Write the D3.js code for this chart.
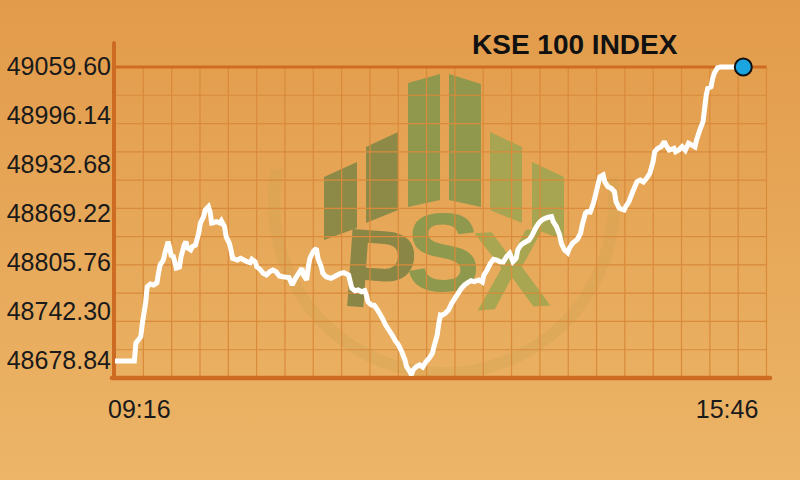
<!DOCTYPE html>
<html>
<head>
<meta charset="utf-8">
<script src="https://cdn.jsdelivr.net/npm/d3@7"></script>
<style>
  html, body { margin: 0; padding: 0; background: #e6a85a; }
  svg { display: block; font-family: "Liberation Sans", Arial, sans-serif; }
</style>
</head>
<body>
<script>
// KSE 100 intraday
var times = ["09:16","09:28","09:29","09:32","09:33","09:35","09:36","09:38","09:40","09:42",
  "09:43","09:44","09:46","09:47","09:49","09:50","09:51","09:52","09:54","09:56",
  "09:57","09:59","10:00","10:01","10:03","10:04","10:06","10:08","10:09","10:11",
  "10:12","10:14","10:15","10:16","10:17","10:19","10:21","10:22","10:24","10:25",
  "10:27","10:28","10:29","10:32","10:34","10:36","10:38","10:40","10:41","10:43",
  "10:44","10:46","10:48","10:50","10:52","10:54","10:56","10:58","11:00","11:04",
  "11:06","11:08","11:10","11:12","11:13","11:15","11:16","11:17","11:19","11:21",
  "11:22","11:24","11:25","11:27","11:30","11:32","11:34","11:36","11:38","11:41",
  "11:42","11:43","11:45","11:47","11:49","11:51","11:52","11:53","11:55","11:57",
  "11:59","12:02","12:04","12:06","12:08","12:10","12:12","12:14","12:16","12:17",
  "12:19","12:20","12:21","12:23","12:25","12:27","12:29","12:31","12:33","12:34",
  "12:36","12:37","12:38","12:39","12:41","12:43","12:45","12:47","12:49","12:51",
  "12:53","12:55","12:57","12:59","13:02","13:04","13:05","13:07","13:09","13:11",
  "13:13","13:15","13:17","13:19","13:21","13:23","13:25","13:26","13:28","13:30",
  "13:33","13:35","13:37","13:39","13:41","13:43","13:45","13:47","13:48","13:50",
  "13:52","13:53","13:55","13:57","13:58","14:00","14:03","14:05","14:06","14:08",
  "14:09","14:11","14:13","14:15","14:17","14:19","14:20","14:22","14:24","14:26",
  "14:27","14:29","14:32","14:33","14:35","14:37","14:40","14:42","14:44","14:46",
  "14:48","14:50","14:51","14:53","14:55","14:57","14:58","15:00","15:03","15:04",
  "15:06","15:08","15:10","15:12","15:14","15:16","15:17","15:19","15:21","15:22",
  "15:23","15:24","15:26","15:27","15:28","15:30","15:32","15:46"];

var values = [48678.84,48678.84,48702.15,48710.31,48728.05,48753.96,48775.07,48778.56,48777.27,48779.86,
  48792.81,48803.17,48809.65,48818.71,48833.35,48825.19,48813.92,48816.12,48799.28,48800.58,
  48813.92,48829.07,48833.35,48825.19,48822.60,48826.87,48829.07,48844.61,48857.56,48865.72,
  48874.40,48878.67,48872.20,48857.56,48857.95,48859.25,48857.56,48860.54,48852.77,48839.82,
  48831.27,48822.60,48811.85,48809.65,48811.85,48809.65,48807.44,48806.15,48810.55,48807.44,
  48800.97,48797.60,48792.42,48790.22,48794.49,48796.69,48794.49,48788.92,48788.01,48786.95,
  48777.27,48785.95,48792.42,48798.90,48790.22,48783.74,48800.97,48811.85,48820.39,48824.80,
  48811.85,48800.97,48792.42,48788.01,48785.95,48788.01,48790.22,48792.42,48793.20,48790.22,
  48781.54,48772.99,48769.89,48770.79,48768.59,48769.89,48764.32,48755.64,48751.37,48750.80,
  48744.89,48734.14,48725.46,48718.99,48712.51,48705.13,48699.56,48690.88,48680.14,48671.46,
  48664.98,48660.71,48667.18,48671.46,48673.66,48671.10,48677.93,48682.34,48688.81,48697.36,
  48712.51,48727.67,48738.42,48737.90,48740.62,48744.89,48753.57,48760.04,48766.52,48772.99,
  48777.27,48780.25,48782.84,48781.54,48783.74,48781.20,48790.22,48796.69,48805.37,48810.55,
  48809.65,48807.44,48807.10,48813.92,48818.32,48807.44,48811.85,48822.60,48829.07,48832.05,
  48835.55,48842.02,48850.70,48857.18,48861.45,48863.65,48864.95,48865.72,48859.25,48852.77,
  48842.02,48831.27,48822.60,48819.10,48824.80,48831.27,48836.45,48844.22,48854.97,48870.13,
  48872.20,48871.70,48883.47,48900.30,48917.53,48919.73,48911.05,48904.58,48902.50,48898.10,
  48885.15,48876.60,48874.40,48878.67,48885.15,48896.03,48911.05,48913.25,48910.70,48915.46,
  48921.93,48936.95,48949.90,48954.31,48956.38,48962.86,48958.58,48952.11,48954.31,48949.90,
  48952.11,48956.38,48951.80,48960.78,48958.58,48956.10,48965.06,48978.01,48988.76,49006.11,
  49023.34,49032.01,49034.09,49044.97,49051.44,49058.69,49059.60,49059.60];

var yTicks = [48678.84, 48742.30, 48805.76, 48869.22, 48932.68, 48996.14, 49059.60];
var xTicks = ["09:16", "15:46"];
var title = "KSE 100 INDEX";

var width = 800, height = 480;
var frame = { left: 115, right: 766.5, top: 67, bottom: 378, axisTop: 43 };
var cols = 23, rows = 11;

var parse = d3.timeParse("%H:%M");
var data = times.map(function (t, i) { return { t: parse(t), v: values[i] }; });

var x = d3.scaleTime()
    .domain([parse(xTicks[0]), parse(xTicks[1])])
    .range([frame.left, 743.3]);

var y = d3.scaleLinear()
    .domain([yTicks[0], yTicks[yTicks.length - 1]])
    .range([361, 67]);

var svg = d3.select("body").append("svg")
    .attr("width", width)
    .attr("height", height);

var defs = svg.append("defs");
var bg = defs.append("linearGradient")
    .attr("id", "bg")
    .attr("x1", 0).attr("y1", 0).attr("x2", 0).attr("y2", 1);
bg.append("stop").attr("offset", "0%").attr("stop-color", "#e29b4a");
bg.append("stop").attr("offset", "100%").attr("stop-color", "#ecb568");

svg.append("rect")
    .attr("width", width)
    .attr("height", height)
    .attr("fill", "url(#bg)");

// PSX watermark
var mark = svg.append("g").attr("class", "watermark");

var ring = d3.arc()
    .innerRadius(164)
    .outerRadius(176)
    .startAngle(Math.PI / 2 - 0.15)
    .endAngle(Math.PI * 1.5 + 0.2);
mark.append("path")
    .attr("transform", "translate(444,203)")
    .attr("d", ring)
    .attr("fill", "#c9a24e")
    .attr("opacity", 0.3);

var bars = [
    { pts: [[324, 177], [357, 162], [357, 228], [324, 240]], fill: "#8d8a48" },
    { pts: [[366, 147], [398, 132], [398, 210], [366, 223]], fill: "#8d8a48" },
    { pts: [[408, 83], [440, 74], [440, 200], [408, 207]], fill: "#8f984d" },
    { pts: [[449, 74], [481, 84], [481, 207], [449, 200]], fill: "#8f984d" },
    { pts: [[490, 132], [522, 147], [522, 223], [490, 210]], fill: "#a7a551" },
    { pts: [[532, 162], [564, 177], [564, 240], [532, 228]], fill: "#a7a551" }
];
mark.selectAll("polygon")
    .data(bars)
    .enter().append("polygon")
    .attr("points", function (d) { return d.pts.join(" "); })
    .attr("fill", function (d) { return d.fill; });

var letters = [
    { ch: "P", x: 377, y: 308, rot: 4, fill: "#8a8746" },
    { ch: "S", x: 443, y: 291, rot: 0, fill: "#8e994d" },
    { ch: "X", x: 514, y: 308, rot: -4, fill: "#a8a650" }
];
mark.selectAll("text")
    .data(letters)
    .enter().append("text")
    .attr("transform", function (d) { return "translate(" + d.x + "," + d.y + ") rotate(" + d.rot + ")"; })
    .attr("text-anchor", "middle")
    .style("font-size", "112px")
    .style("font-weight", "bold")
    .attr("fill", function (d) { return d.fill; })
    .text(function (d) { return d.ch; });

// square grid
var cw = (frame.right - frame.left) / cols;
var ch = (frame.bottom - frame.top) / rows;
var grid = svg.append("g").attr("stroke", "#d98a3b").attr("stroke-width", 1.2);
grid.selectAll("line.v")
    .data(d3.range(1, cols + 1))
    .enter().append("line")
    .attr("class", "v")
    .attr("x1", function (i) { return frame.left + i * cw; })
    .attr("x2", function (i) { return frame.left + i * cw; })
    .attr("y1", frame.top)
    .attr("y2", frame.bottom);
grid.selectAll("line.h")
    .data(d3.range(1, rows))
    .enter().append("line")
    .attr("class", "h")
    .attr("x1", frame.left)
    .attr("x2", frame.right)
    .attr("y1", function (i) { return frame.top + i * ch; })
    .attr("y2", function (i) { return frame.top + i * ch; });

// top line at the high tick
svg.append("line")
    .attr("x1", frame.left).attr("x2", frame.right)
    .attr("y1", y(yTicks[yTicks.length - 1])).attr("y2", y(yTicks[yTicks.length - 1]))
    .attr("stroke", "#d06c22")
    .attr("stroke-width", 3);

// axes
svg.append("line")
    .attr("x1", frame.left - 1).attr("x2", frame.left - 1)
    .attr("y1", frame.axisTop).attr("y2", frame.bottom)
    .attr("stroke", "#cd6b22")
    .attr("stroke-width", 4)
    .attr("stroke-linecap", "round");
svg.append("line")
    .attr("x1", frame.left - 3).attr("x2", 770)
    .attr("y1", frame.bottom).attr("y2", frame.bottom)
    .attr("stroke", "#cd6b22")
    .attr("stroke-width", 4.5)
    .attr("stroke-linecap", "round");

// index line
var line = d3.line()
    .x(function (d) { return x(d.t); })
    .y(function (d) { return y(d.v); });

svg.append("path")
    .datum(data)
    .attr("d", line)
    .attr("fill", "none")
    .attr("stroke", "#ffffff")
    .attr("stroke-width", 5)
    .attr("stroke-linejoin", "miter")
    .attr("stroke-miterlimit", 2);

var last = data[data.length - 1];
svg.append("circle")
    .attr("cx", x(last.t))
    .attr("cy", y(last.v))
    .attr("r", 8.5)
    .attr("fill", "#1aa5e0")
    .attr("stroke", "#111")
    .attr("stroke-width", 2);

// labels
svg.append("g").selectAll("text")
    .data(yTicks)
    .enter().append("text")
    .attr("x", 111)
    .attr("y", function (d) { return y(d) - 1; })
    .attr("dy", "0.36em")
    .attr("text-anchor", "end")
    .style("font-size", "25px")
    .attr("fill", "#1a1a1a")
    .text(d3.format(".2f"));

svg.append("g").selectAll("text")
    .data(xTicks)
    .enter().append("text")
    .attr("x", function (d, i) { return x(parse(d)) + (i === 0 ? -7 : 15); })
    .attr("y", 418)
    .attr("text-anchor", function (d, i) { return i === 0 ? "start" : "end"; })
    .style("font-size", "25px")
    .attr("fill", "#1a1a1a")
    .text(function (d) { return d; });

svg.append("text")
    .attr("x", 472)
    .attr("y", 54)
    .style("font-size", "28px")
    .style("font-weight", "bold")
    .attr("fill", "#111")
    .text(title);
</script>
</body>
</html>
